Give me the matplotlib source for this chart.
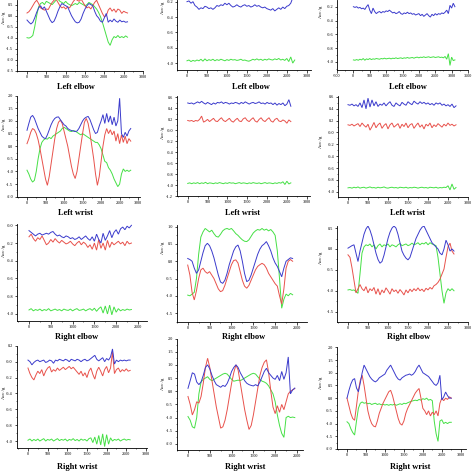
import numpy as np
import matplotlib
matplotlib.use("Agg")
import matplotlib.pyplot as plt
from matplotlib.ticker import AutoMinorLocator, FormatStrFormatter

plt.rcParams['font.family'] = ['Liberation Serif', 'DejaVu Serif']
plt.rcParams['axes.unicode_minus'] = False

STEP = 50  # sample spacing of the read-off values

# ---------------- data (one value every 50 samples) -------------
# Row 1: Left elbow
le1_green = [-1.0,-1.02,-0.98,-0.9,-0.5,0.0,0.4,0.55,0.6,0.5,0.65,0.6,0.55,0.5,0.6,0.7,0.75,0.65,0.6,0.55,0.65,0.55,0.5,0.45,0.5,0.55,0.5,0.6,0.55,0.5,0.45,0.5,0.6,0.55,0.5,0.4,0.3,0.15,-0.05,-0.3,-0.6,-0.9,-1.2,-1.35,-1.1,-0.95,-1.0,-0.9,-1.0,-0.95,-1.0,-0.92,-0.98]
le1_red = [0.12,0.18,0.3,0.45,0.6,0.7,0.55,0.35,0.3,0.25,0.3,0.28,0.45,0.6,0.7,0.75,0.6,0.45,0.35,0.4,0.3,0.4,0.35,0.5,0.65,0.75,0.7,0.65,0.75,0.6,0.45,0.35,0.4,0.3,0.45,0.6,0.7,0.5,0.3,0.1,-0.05,0.0,0.25,0.35,0.2,0.3,0.15,0.3,0.25,0.1,0.2,0.15,0.12]
le1_blue = [-0.2,-0.3,-0.38,-0.3,-0.1,0.15,0.35,0.45,0.3,0.4,0.2,0.0,-0.2,-0.32,-0.25,-0.05,0.2,0.4,0.55,0.5,0.45,0.4,0.2,0.0,-0.15,-0.28,-0.33,-0.3,-0.15,0.1,0.3,0.45,0.55,0.5,0.45,0.2,0.0,-0.1,-0.25,-0.3,-0.1,0.1,-0.3,-0.2,-0.28,-0.15,-0.25,-0.3,-0.2,-0.28,-0.25,-0.3,-0.28]

le2_blue = [-0.2,-0.19,-0.22,-0.2,-0.25,-0.27,-0.3,-0.28,-0.29,-0.26,-0.27,-0.29,-0.28,-0.3,-0.28,-0.25,-0.26,-0.24,-0.25,-0.22,-0.24,-0.22,-0.25,-0.27,-0.26,-0.24,-0.26,-0.27,-0.25,-0.24,-0.26,-0.25,-0.27,-0.26,-0.24,-0.26,-0.25,-0.27,-0.28,-0.27,-0.29,-0.3,-0.31,-0.29,-0.32,-0.3,-0.28,-0.3,-0.27,-0.29,-0.26,-0.25,-0.22,-0.15,-0.1]
le2_green = [-0.97,-0.96,-0.98,-0.965,-0.975,-0.96,-0.97,-0.95,-0.975,-0.945,-0.97,-0.955,-0.965,-0.95,-0.97,-0.955,-0.965,-0.95,-0.96,-0.97,-0.955,-0.965,-0.95,-0.96,-0.955,-0.965,-0.96,-0.95,-0.965,-0.96,-0.97,-0.975,-0.965,-0.95,-0.96,-0.945,-0.96,-0.95,-0.965,-0.95,-0.96,-0.945,-0.955,-0.96,-0.945,-0.955,-0.94,-0.96,-0.95,-0.965,-0.94,-0.98,-0.92,-1.0,-0.96]

le3_blue = [-0.2,-0.21,-0.2,-0.22,-0.21,-0.23,-0.22,-0.24,-0.2,-0.17,-0.25,-0.3,-0.22,-0.27,-0.3,-0.28,-0.27,-0.29,-0.27,-0.28,-0.26,-0.27,-0.25,-0.27,-0.29,-0.28,-0.3,-0.29,-0.27,-0.3,-0.31,-0.29,-0.3,-0.28,-0.3,-0.29,-0.31,-0.3,-0.32,-0.31,-0.3,-0.33,-0.31,-0.34,-0.32,-0.3,-0.33,-0.35,-0.31,-0.33,-0.3,-0.32,-0.3,-0.31,-0.29,-0.3,-0.28,-0.25,-0.3,-0.18,-0.22,-0.15,-0.2]
le3_green = [-0.97,-0.975,-0.965,-0.975,-0.96,-0.97,-0.95,-0.975,-0.955,-0.965,-0.95,-0.965,-0.955,-0.96,-0.95,-0.955,-0.96,-0.95,-0.955,-0.945,-0.955,-0.95,-0.945,-0.955,-0.945,-0.95,-0.94,-0.95,-0.945,-0.94,-0.95,-0.94,-0.945,-0.935,-0.945,-0.94,-0.935,-0.945,-0.935,-0.93,-0.94,-0.93,-0.935,-0.925,-0.935,-0.93,-0.925,-0.935,-0.93,-0.925,-0.935,-0.93,-0.925,-0.935,-0.93,-0.94,-0.92,-0.96,-0.88,-1.05,-0.93,-0.98,-0.97]

# Row 2: Left wrist
lw1_green = [-0.95,-1.1,-1.3,-1.42,-1.35,-1.0,-0.5,-0.1,0.15,0.25,0.3,0.28,0.35,0.3,0.4,0.45,0.5,0.55,0.6,0.7,0.75,0.7,0.65,0.6,0.58,0.62,0.6,0.55,0.5,0.45,0.5,0.45,0.4,0.35,0.3,0.25,0.2,0.15,0.15,0.05,-0.1,-0.35,-0.6,-0.65,-0.85,-0.95,-1.1,-1.3,-1.45,-1.6,-1.5,-1.1,-0.9,-1.0,-0.95,-1.0,-0.95]
lw1_red = [0.1,0.3,0.55,0.7,0.65,0.5,0.25,-0.1,-0.5,-0.9,-1.3,-1.55,-1.2,-0.7,-0.2,0.3,0.7,0.95,1.03,0.9,0.6,0.3,0.0,-0.4,-0.8,-1.1,-1.28,-1.0,-0.5,0.0,0.5,0.95,1.1,0.9,0.5,0.0,-0.5,-1.1,-1.55,-1.2,-0.6,0.0,0.45,0.7,0.5,0.65,0.45,0.6,0.2,0.5,0.1,0.45,0.15,0.4,0.1,0.3,0.2]
lw1_blue = [0.63,0.9,1.15,1.22,1.1,0.9,0.7,0.55,0.4,0.33,0.3,0.45,0.65,0.85,1.0,1.1,1.15,1.16,1.05,0.95,0.85,0.8,0.7,0.65,0.62,0.6,0.58,0.6,0.7,0.85,1.0,1.1,1.15,1.18,1.05,0.85,0.65,0.5,0.55,0.8,1.0,1.25,0.9,1.3,0.95,1.2,0.85,1.15,0.8,1.0,1.9,0.5,0.35,0.55,0.4,0.6,0.7]

lw2_red = [0.18,0.17,0.18,0.16,0.18,0.17,0.2,0.26,0.15,0.17,0.2,0.16,0.19,0.22,0.17,0.16,0.2,0.23,0.18,0.16,0.19,0.22,0.17,0.15,0.19,0.22,0.17,0.16,0.21,0.23,0.18,0.16,0.2,0.23,0.17,0.15,0.2,0.23,0.18,0.16,0.2,0.23,0.17,0.15,0.2,0.22,0.17,0.16,0.19,0.17,0.13,0.19,0.16]
lw2_blue = [0.5,0.49,0.5,0.48,0.5,0.52,0.5,0.53,0.5,0.48,0.51,0.49,0.47,0.5,0.48,0.51,0.5,0.52,0.49,0.51,0.5,0.48,0.5,0.49,0.51,0.5,0.48,0.51,0.49,0.52,0.5,0.48,0.5,0.51,0.49,0.5,0.52,0.49,0.5,0.48,0.51,0.49,0.5,0.47,0.5,0.46,0.49,0.47,0.5,0.45,0.48,0.56,0.44]
lw2_green = [-0.97,-0.96,-0.975,-0.96,-0.97,-0.955,-0.975,-0.96,-0.97,-0.95,-0.975,-0.96,-0.965,-0.975,-0.96,-0.97,-0.955,-0.965,-0.975,-0.96,-0.97,-0.955,-0.965,-0.96,-0.975,-0.965,-0.955,-0.97,-0.96,-0.965,-0.975,-0.96,-0.97,-0.955,-0.965,-0.97,-0.96,-0.975,-0.965,-0.955,-0.97,-0.96,-0.965,-0.975,-0.96,-0.97,-0.955,-0.965,-0.94,-0.99,-0.93,-0.98,-0.96]

lw3_red = [0.13,0.12,0.14,0.11,0.13,0.15,0.1,0.16,0.12,0.09,0.14,0.04,0.1,0.17,0.08,0.13,0.16,0.07,0.12,0.15,0.06,0.13,0.16,0.09,0.12,0.15,0.07,0.14,0.1,0.16,0.08,0.13,0.15,0.07,0.12,0.16,0.09,0.13,0.06,0.14,0.11,0.16,0.08,0.13,0.1,0.15,0.12,0.09,0.14,0.11,0.16,0.12,0.14,0.11,0.13]
lw3_blue = [0.47,0.46,0.48,0.45,0.47,0.44,0.5,0.42,0.55,0.4,0.58,0.43,0.55,0.45,0.52,0.44,0.48,0.46,0.5,0.45,0.49,0.52,0.46,0.44,0.5,0.47,0.45,0.51,0.48,0.46,0.52,0.49,0.47,0.53,0.5,0.48,0.52,0.49,0.51,0.48,0.5,0.47,0.49,0.46,0.5,0.48,0.5,0.46,0.48,0.45,0.47,0.44,0.48,0.42,0.45]
lw3_green = [-0.935,-0.93,-0.94,-0.925,-0.935,-0.92,-0.94,-0.93,-0.925,-0.94,-0.93,-0.92,-0.935,-0.93,-0.94,-0.925,-0.935,-0.93,-0.92,-0.935,-0.94,-0.93,-0.925,-0.935,-0.93,-0.94,-0.925,-0.93,-0.935,-0.925,-0.94,-0.93,-0.935,-0.925,-0.93,-0.94,-0.93,-0.925,-0.935,-0.93,-0.94,-0.925,-0.93,-0.935,-0.925,-0.94,-0.93,-0.935,-0.925,-0.93,-0.9,-0.97,-0.87,-0.96,-0.93]

# Row 3: Right elbow
re1_green = [-0.955,-0.94,-0.965,-0.95,-0.96,-0.945,-0.965,-0.95,-0.96,-0.94,-0.965,-0.955,-0.945,-0.96,-0.95,-0.965,-0.945,-0.955,-0.96,-0.945,-0.965,-0.95,-0.94,-0.96,-0.955,-0.945,-0.965,-0.95,-0.94,-0.96,-0.935,-0.97,-0.94,-0.92,-0.99,-0.91,-1.0,-0.9,-1.01,-0.92,-0.98,-0.94,-0.965,-0.95,-0.96,-0.945,-0.955,-0.95]
re1_red = [-0.13,-0.1,-0.15,-0.18,-0.14,-0.16,-0.12,-0.17,-0.22,-0.2,-0.16,-0.19,-0.15,-0.18,-0.2,-0.17,-0.19,-0.21,-0.2,-0.18,-0.21,-0.23,-0.2,-0.18,-0.22,-0.19,-0.21,-0.25,-0.22,-0.27,-0.2,-0.28,-0.16,-0.26,-0.2,-0.28,-0.17,-0.25,-0.19,-0.22,-0.2,-0.18,-0.21,-0.19,-0.23,-0.18,-0.21,-0.2]
re1_blue = [-0.06,-0.08,-0.1,-0.12,-0.1,-0.09,-0.11,-0.1,-0.09,-0.1,-0.08,-0.07,-0.1,-0.12,-0.11,-0.13,-0.14,-0.12,-0.13,-0.15,-0.14,-0.16,-0.15,-0.13,-0.16,-0.14,-0.12,-0.15,-0.17,-0.13,-0.18,-0.1,-0.16,-0.2,-0.09,-0.17,-0.12,-0.06,-0.14,-0.08,-0.05,-0.1,-0.04,-0.02,-0.05,-0.01,-0.03,0.0]

re2_green = [-0.98,-1.0,-0.95,-0.9,-0.5,0.2,0.7,0.85,0.95,0.9,0.85,0.9,0.8,0.72,0.7,0.78,0.88,0.93,0.95,0.92,0.95,0.88,0.8,0.75,0.68,0.62,0.58,0.57,0.62,0.72,0.82,0.88,0.92,0.9,0.95,0.9,0.93,0.88,0.92,0.85,0.75,0.3,-0.5,-1.36,-1.1,-0.95,-1.0,-0.93,-0.97]
re2_red = [-0.11,-0.4,-0.9,-1.12,-0.85,-0.5,-0.25,-0.2,-0.3,-0.35,-0.3,-0.4,-0.5,-0.65,-0.8,-0.88,-0.85,-0.7,-0.5,-0.3,-0.1,0.02,0.04,-0.05,-0.3,-0.55,-0.72,-0.78,-0.7,-0.55,-0.4,-0.25,-0.15,-0.1,-0.06,-0.1,-0.2,-0.35,-0.45,-0.55,-0.65,-0.72,-1.0,-1.24,-0.8,-0.2,0.0,0.05,0.0]
re2_blue = [0.08,0.05,0.0,-0.2,-0.35,-0.25,0.0,0.25,0.45,0.52,0.45,0.3,0.1,-0.15,-0.4,-0.6,-0.64,-0.55,-0.35,-0.1,0.1,0.3,0.42,0.47,0.3,0.0,-0.35,-0.59,-0.55,-0.4,-0.2,0.0,0.2,0.35,0.45,0.5,0.57,0.45,0.3,0.1,-0.05,-0.15,-0.3,-0.45,-0.2,0.0,0.05,0.1,0.08]

re3_green = [-0.98,-0.97,-0.99,-0.98,-1.02,-1.06,-0.6,-0.1,0.05,0.1,0.08,0.12,0.05,0.1,0.0,0.08,0.12,0.05,0.1,0.08,0.12,0.05,0.1,0.08,0.05,0.1,0.13,0.08,0.1,0.12,0.08,0.1,0.14,0.1,0.12,0.15,0.1,0.14,0.12,0.16,0.1,0.15,0.12,0.1,0.08,-0.2,-0.6,-1.0,-1.3,-1.05,-0.95,-1.0,-0.95,-1.0]
re3_red = [-0.14,-0.2,-0.45,-0.75,-1.05,-0.95,-0.85,-0.95,-1.0,-0.9,-1.05,-0.95,-1.0,-0.92,-1.08,-0.95,-1.1,-0.98,-1.05,-0.93,-1.0,-1.08,-0.95,-1.02,-0.98,-1.06,-0.97,-1.03,-1.1,-0.98,-1.05,-0.96,-1.02,-0.95,-1.0,-0.93,-1.0,-0.96,-1.02,-0.94,-0.98,-0.92,-0.96,-0.88,-0.85,-0.8,-0.72,-0.6,-0.48,-0.2,0.05,0.14,-0.05,-0.12]
re3_blue = [0.02,0.05,0.08,0.1,-0.1,-0.3,-0.05,0.15,0.35,0.48,0.55,0.45,0.3,0.1,-0.1,-0.25,-0.34,-0.3,-0.15,0.05,0.25,0.4,0.5,0.55,0.5,0.35,0.15,-0.05,-0.15,-0.22,-0.26,-0.2,-0.05,0.1,0.25,0.35,0.45,0.52,0.55,0.45,0.35,0.25,0.15,0.1,0.05,0.0,-0.1,-0.14,0.0,0.21,0.1,-0.05,0.0,-0.05]

# Row 4: Right wrist
rw1_green = [-0.99,-0.975,-1.0,-0.98,-0.995,-0.975,-1.0,-0.985,-0.97,-1.0,-0.98,-0.99,-0.975,-1.0,-0.985,-0.97,-0.995,-0.98,-0.99,-0.975,-1.0,-0.98,-0.99,-0.97,-0.995,-0.98,-1.0,-0.975,-0.99,-0.98,-1.0,-0.97,-0.96,-1.02,-0.95,-1.04,-0.93,-1.05,-0.91,-1.07,-0.92,-1.04,-0.96,-1.0,-0.98,-0.99,-0.975,-1.0,-0.985,-0.975,-0.99,-0.98,-0.985]
rw1_red = [-0.08,-0.15,-0.2,-0.23,-0.17,-0.12,-0.15,-0.1,-0.18,-0.12,-0.08,-0.06,-0.13,-0.1,-0.12,-0.08,-0.11,-0.09,-0.07,-0.1,-0.08,-0.06,-0.09,-0.07,-0.1,-0.13,-0.16,-0.12,-0.18,-0.14,-0.2,-0.12,-0.08,-0.16,-0.22,-0.12,-0.07,-0.12,-0.18,-0.1,-0.06,-0.14,-0.08,0.12,-0.15,-0.1,-0.08,-0.13,-0.1,-0.12,-0.09,-0.12,-0.11]
rw1_blue = [0.02,0.0,-0.04,-0.01,0.01,0.02,0.0,0.01,0.02,-0.01,0.0,0.02,0.01,-0.02,0.02,0.01,0.03,0.02,0.01,0.03,0.02,0.0,0.03,0.02,0.01,0.03,0.02,0.0,0.02,0.03,0.01,0.02,0.04,0.06,0.08,0.03,0.01,0.03,0.05,0.0,0.04,0.02,0.06,0.16,-0.03,0.02,0.0,0.02,0.01,0.02,0.01,0.02,0.02]

rw2_green = [-0.96,-1.1,-1.35,-1.4,-1.0,-0.1,0.35,0.45,0.5,0.55,0.45,0.4,0.45,0.5,0.55,0.6,0.65,0.68,0.65,0.55,0.45,0.38,0.4,0.42,0.4,0.45,0.5,0.55,0.6,0.65,0.68,0.65,0.55,0.45,0.38,0.35,0.3,0.2,0.05,-0.1,-0.4,-0.9,-1.3,-1.6,-1.75,-1.0,-0.95,-1.0,-0.98,-1.0]
rw2_red = [-0.2,-0.5,-0.9,-0.7,-0.4,-0.45,-0.2,0.3,0.9,1.25,0.9,0.4,-0.1,-0.6,-1.0,-1.4,-1.35,-1.1,-0.7,-0.2,0.3,0.7,1.0,0.8,0.3,-0.2,-0.7,-1.1,-1.45,-1.3,-0.9,-0.4,0.1,0.6,0.9,1.1,1.19,0.7,0.0,-0.6,-0.85,-0.55,-0.8,-0.5,-0.7,-0.4,-0.1,0.0,0.05,0.1]
rw2_blue = [0.11,0.4,0.7,0.65,0.35,0.25,0.35,0.6,0.9,1.0,0.85,0.6,0.4,0.25,0.2,0.15,0.22,0.18,0.3,0.5,0.75,0.9,1.0,0.9,0.7,0.55,0.4,0.3,0.25,0.22,0.2,0.25,0.2,0.35,0.55,0.75,0.87,0.7,0.6,0.5,0.45,0.6,0.4,0.75,0.45,0.7,1.3,-0.1,0.05,0.12]

rw3_green = [-0.93,-1.0,-1.2,-1.35,-1.45,-0.9,-0.4,-0.2,-0.15,-0.2,-0.18,-0.22,-0.2,-0.25,-0.22,-0.2,-0.25,-0.22,-0.26,-0.24,-0.27,-0.25,-0.28,-0.25,-0.27,-0.24,-0.28,-0.25,-0.22,-0.25,-0.2,-0.22,-0.18,-0.15,-0.12,-0.1,-0.08,-0.1,-0.05,-0.08,-0.02,-0.05,0.0,-0.08,-0.05,-0.1,-0.9,-1.4,-1.7,-0.9,-0.85,-1.0,-0.95,-1.0,-0.95,-0.95]
rw3_red = [0.0,-0.3,-0.6,-0.8,-0.87,-0.3,0.3,0.7,0.9,0.5,0.0,-0.5,-0.8,-1.0,-1.1,-1.13,-0.9,-0.6,-0.4,-0.2,-0.05,0.1,0.25,0.31,0.1,-0.2,-0.5,-0.8,-1.0,-1.06,-0.9,-0.6,-0.4,-0.25,-0.1,0.05,0.2,0.3,0.38,0.0,-0.4,-0.5,-0.65,-0.5,-0.7,-0.55,-0.65,-0.5,-0.7,-0.2,0.0,-0.1,0.0,-0.05,0.05,0.0]
rw3_blue = [0.0,0.3,0.55,0.72,0.77,0.4,0.25,0.6,1.0,1.3,1.15,1.0,0.85,0.75,0.68,0.64,0.7,0.8,0.85,0.9,0.95,1.1,1.2,1.3,1.15,1.0,0.85,0.75,0.71,0.8,0.85,0.9,0.92,0.95,0.9,0.95,1.05,1.2,1.3,1.15,1.0,0.95,0.9,0.85,0.75,0.65,0.55,0.5,0.6,0.9,-0.07,0.05,0.24,0.1,0.0,0.0]

titles = ["Left elbow", "Left wrist", "Right elbow", "Right wrist"]
ylabel = "Acc /g"

# ---------------- layout (pixel boxes in a 474x474 canvas) ----------------
W = H = 474
fig = plt.figure(figsize=(W / 100, H / 100), dpi=100)

C_BLUE = '#3b3bcc'
C_RED = '#e8524c'
C_GREEN = '#46e046'

panels = [
    (0, 0, (17, 143, 0, 70.7), (-259, 3000), (-2.5, 0.71), 0.5, (-2.5, 0.5), (0, 3000), (le1_green, le1_red, le1_blue)),
    (0, 1, (177, 310.7, 0, 70), (-250, 3100), (-1.09, -0.178), 0.2, (-1.0, -0.2), (0, 3000), (le2_green, None, le2_blue)),
    (0, 2, (337, 468, 0, 70), (-500, 3500), (-1.116, -0.103), 0.2, (-1.0, -0.2), (-500, 3500), (le3_green, None, le3_blue)),
    (1, 0, (17, 140, 95.7, 196.7), (-270, 3050), (-2.0, 2.0), 0.5, (-2.0, 2.0), (0, 3000), (lw1_green, lw1_red, lw1_blue)),
    (1, 1, (177, 310, 96.4, 196), (-270, 3083), (-1.2, 0.62), 0.2, (-1.2, 0.6), (0, 3000), (lw2_green, lw2_red, lw2_blue)),
    (1, 2, (338, 468, 95.8, 197), (-250, 3000), (-1.09, 0.62), 0.2, (-1.0, 0.6), (0, 3000), (lw3_green, lw3_red, lw3_blue)),
    (2, 0, (17, 146.7, 224.4, 320.7), (-275, 2700), (-1.076, 0.01), 0.2, (-1.0, 0.0), (0, 2500), (re1_green, re1_red, re1_blue)),
    (2, 1, (176.7, 306.7, 225.0, 321.7), (-252, 2722), (-1.75, 1.05), 0.5, (-1.5, 1.0), (0, 2500), (re2_green, re2_red, re2_blue)),
    (2, 2, (337.3, 468, 226.0, 321.7), (-267, 3000), (-1.74, 0.55), 0.5, (-1.5, 0.5), (0, 3000), (re3_green, re3_red, re3_blue)),
    (3, 0, (16.7, 146.7, 345.8, 448), (-287, 3020), (-1.088, 0.2), 0.2, (-1.0, 0.2), (0, 3000), (rw1_green, rw1_red, rw1_blue)),
    (3, 1, (176.7, 303.3, 338.5, 450), (-259, 2645), (-2.23, 2.0), 0.5, (-2.0, 2.0), (0, 2500), (rw2_green, rw2_red, rw2_blue)),
    (3, 2, (336.7, 465.7, 347.3, 449), (-272, 3130), (-2.0, 2.0), 0.5, (-2.0, 2.0), (0, 3000), (rw3_green, rw3_red, rw3_blue)),
]

ylabel_pos = {(0, 0): (4.5, 18), (0, 1): (163, 8), (0, 2): (321, 12),
              (1, 0): (4.5, 125), (1, 1): (163, 133), (1, 2): (321, 142),
              (2, 0): (4.5, 251), (2, 1): (163, 248), (2, 2): (321, 258),
              (3, 0): (4.0, 393), (3, 1): (163, 384), (3, 2): (321, 383)}
title_x = {(0, 0): 76, (0, 1): 251, (0, 2): 408,
           (1, 0): 75, (1, 1): 243, (1, 2): 408,
           (2, 0): 77, (2, 1): 244, (2, 2): 409,
           (3, 0): 77, (3, 1): 245, (3, 2): 410}
title_y = [87, 213, 337, 467]

for (r, c, (L, R, T, B), xlim, ylim, ystep, yr, xr, series) in panels:
    ax = fig.add_axes([L / W, 1 - B / H, (R - L) / W, (B - T) / H])
    g, rd, b = series
    for vals, col in ((g, C_GREEN), (rd, C_RED), (b, C_BLUE)):
        if vals is None:
            continue
        t = np.arange(len(vals)) * STEP
        ax.plot(t, vals, color=col, lw=0.7, solid_joinstyle='miter')
    ax.set_xlim(*xlim)
    ax.set_ylim(*ylim)
    ax.set_yticks(np.round(np.arange(yr[0], yr[1] + 1e-6, ystep), 2))
    ax.set_xticks(np.arange(xr[0], xr[1] + 1, 500))
    ax.yaxis.set_major_formatter(FormatStrFormatter('%.1f'))
    ax.xaxis.set_major_formatter(FormatStrFormatter('%d'))
    ax.xaxis.set_minor_locator(AutoMinorLocator(2))
    ax.yaxis.set_minor_locator(AutoMinorLocator(2))
    for s in ('top', 'right'):
        ax.spines[s].set_visible(False)
    for s in ('left', 'bottom'):
        ax.spines[s].set_linewidth(0.6)
    ax.tick_params(which='major', direction='out', length=1.8, width=0.5, labelsize=3.1, pad=1.0)
    ax.tick_params(which='minor', direction='out', length=1.0, width=0.4)
    ax.patch.set_alpha(0)
    lx, ly = ylabel_pos[(r, c)]
    fig.text(lx / W, 1 - ly / H, ylabel, rotation=90, ha='center', va='center', fontsize=3.4)
    fig.text(title_x[(r, c)] / W, 1 - title_y[r] / H, titles[r], ha='center', va='center',
             fontsize=6.0, fontweight='bold')

fig.savefig('out.png', dpi=100)
